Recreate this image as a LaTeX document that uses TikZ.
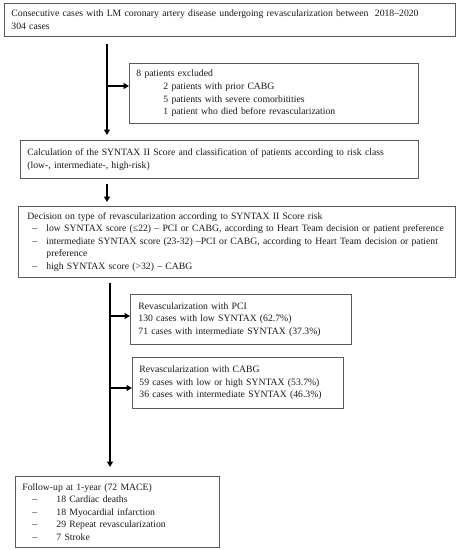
\documentclass[tikz,border=0pt]{standalone}
\usepackage{fontspec}
\setmainfont{Liberation Serif}
\usetikzlibrary{arrows.meta}
\definecolor{boxgray}{HTML}{5A5A5A}
\definecolor{txt}{HTML}{1A1A1A}
\begin{document}
\begin{tikzpicture}[x=1pt,y=-1pt,
  box/.style={draw=boxgray, line width=0.9pt, inner xsep=7pt, inner ysep=0pt,
    align=left, anchor=north west, font=\fontsize{9.7pt}{12.6pt}\selectfont, text=txt},
  arr/.style={line width=1.5pt, -{Triangle[length=5.5pt,width=6pt]}}]
\useasboundingbox[fill=white] (0,0) rectangle (458,550);

\node[box, text width=437pt, minimum height=33pt] (b1) at (4,3)
  {Consecutive cases with LM coronary artery disease undergoing revascularization between\ \ 2018–2020\\
   304 cases};

\node[box, text width=275pt, minimum height=60pt] (b2) at (129,63)
  {8 patients excluded\\
   \hspace*{27pt}2 patients with prior CABG\\
   \hspace*{27pt}5 patients with severe comorbitities\\
   \hspace*{27pt}1 patient who died before revascularization};

\node[box, text width=384pt, minimum height=38pt] (b3) at (20,140)
  {Calculation of the SYNTAX II Score and classification of patients according to risk class\\
   (low-, intermediate-, high-risk)};

\node[box, inner xsep=9pt, text width=419pt, minimum height=71pt] (b4) at (18,206)
  {Decision on type of revascularization according to SYNTAX II Score risk\\
   \makebox[19pt][l]{\hspace*{5pt}–}low SYNTAX score (≤22) – PCI or CABG, according to Heart Team decision or patient preference\\
   \makebox[19pt][l]{\hspace*{5pt}–}intermediate SYNTAX score (23-32) –PCI or CABG, according to Heart Team decision or patient\\
   \hspace*{19pt}preference\\
   \makebox[19pt][l]{\hspace*{5pt}–}high SYNTAX score (>32) – CABG};

\node[box, inner xsep=8pt, text width=205pt, minimum height=50pt] (b5) at (130,294)
  {Revascularization with PCI\\
   130 cases with low SYNTAX (62.7\%)\\
   71 cases with intermediate SYNTAX (37.3\%)};

\node[box, text width=197pt, minimum height=51pt] (b6) at (132,357)
  {Revascularization with CABG\\
   59 cases with low or high SYNTAX (53.7\%)\\
   36 cases with intermediate SYNTAX (46.3\%)};

\node[box, text width=190pt, minimum height=71pt] (b7) at (15,476)
  {Follow-up at 1-year (72 MACE)\\
   \makebox[34pt][l]{\hspace*{10pt}–}18 Cardiac deaths\\
   \makebox[34pt][l]{\hspace*{10pt}–}18 Myocardial infarction\\
   \makebox[34pt][l]{\hspace*{10pt}–}29 Repeat revascularization\\
   \makebox[34pt][l]{\hspace*{10pt}–}7 Stroke};

\coordinate (j1) at (107,86);
\coordinate (j2) at (110,316);
\coordinate (j3) at (110,388);

\draw[arr, shorten <=7pt, shorten >=5pt] (b1.south -| j1) -- (b3.north -| j1);
\draw[arr] (j1) -- (j1 -| b2.west);
\draw[arr, shorten <=5pt, shorten >=4pt] (b3.south -| j1) -- (b4.north -| j1);
\draw[arr, shorten <=5pt, shorten >=9pt] (b4.south -| j2) -- (b7.north -| j2);
\draw[arr] (j2) -- (j2 -| b5.west);
\draw[arr] (j3) -- (j3 -| b6.west);
\end{tikzpicture}
\end{document}
